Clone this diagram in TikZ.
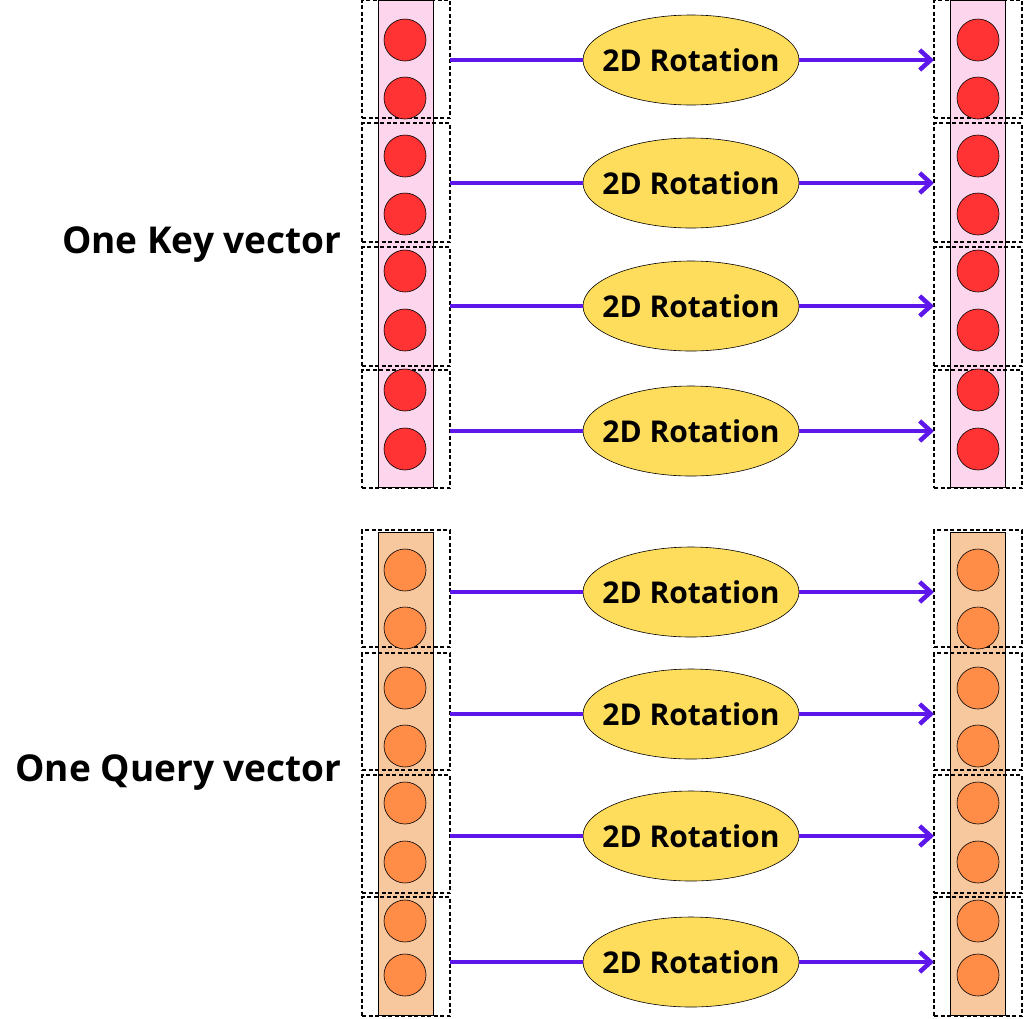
\documentclass[tikz,border=0pt]{standalone}
\usepackage{fontspec}
\setmainfont{Open Sans}
\usetikzlibrary{arrows.meta,shapes.geometric}
\definecolor{pinkbar}{HTML}{FDD5EC}
\definecolor{redc}{HTML}{FF3333}
\definecolor{orbar}{HTML}{F7C89E}
\definecolor{orc}{HTML}{FF8C47}
\definecolor{ell}{HTML}{FFDD5C}
\definecolor{arr}{HTML}{5E17EB}
\begin{document}
\begin{tikzpicture}[x=1pt,y=-1pt,
  dbox/.style={draw,line width=1.6pt,dash pattern=on 4pt off 2.5pt},
  circ/.style={circle,draw,line width=0.6pt,minimum size=42pt,inner sep=0pt},
  rot/.style={ellipse,draw,fill=ell,line width=0.6pt,minimum width=216pt,minimum height=90pt,inner sep=0pt},
  rtxt/.style={font=\bfseries\fontsize{30}{34}\selectfont,inner sep=0pt},
  ar/.style={draw=arr,line width=4.5pt,-{Straight Barb[length=11pt,width=20pt,line width=4.5pt]}},
  ln/.style={draw=arr,line width=4.5pt},
  lab/.style={anchor=east,font=\bfseries\fontsize{37}{42}\selectfont}]
\useasboundingbox (0,0) rectangle (1024,1018);
\foreach \bx in {378,950}{
  \fill[pinkbar] (\bx,0) rectangle ++(55,487);
  \draw[line width=0.5pt] (\bx,0) rectangle ++(55,487);
  \fill[orbar] (\bx,532) rectangle ++(55,483);
  \draw[line width=0.5pt] (\bx,532) rectangle ++(55,483);
}
\foreach \i/\ya/\yb/\ca/\cb/\ey in {1/0/118/40/98/60,2/123/242/156/214/183,3/247/366/271/330/306,4/370/488/390/449/431}{
  \node[dbox,minimum width=88pt,minimum height={\yb-\ya},inner sep=0pt] (kl\i) at (406,{(\ya+\yb)/2}) {};
  \node[dbox,minimum width=88pt,minimum height={\yb-\ya},inner sep=0pt] (kr\i) at (978,{(\ya+\yb)/2}) {};
  \node[circ,fill=redc] (kla\i) at (405,\ca) {};
  \node[circ,fill=redc] (klb\i) at (405,\cb) {};
  \node[circ,fill=redc] (kra\i) at (978,\ca) {};
  \node[circ,fill=redc] (krb\i) at (978,\cb) {};
  \node[rot] (ke\i) at (691,\ey) {};
  \node[rtxt] (kx\i) at (691,\ey) {2D Rotation};
  \coordinate (ks\i) at (450,\ey);
  \coordinate (kt\i) at (934,\ey);
  \draw[ln] (ks\i) -- (ke\i.west);
  \draw[ar] (ke\i.east) -- (kt\i);
}
\foreach \i/\ya/\yb/\ca/\cb/\ey in {1/530/647/570/628/592,2/653/770/688/746/714,3/775/893/803/862/836,4/897/1016/921/975/962}{
  \node[dbox,minimum width=88pt,minimum height={\yb-\ya},inner sep=0pt] (ql\i) at (406,{(\ya+\yb)/2}) {};
  \node[dbox,minimum width=88pt,minimum height={\yb-\ya},inner sep=0pt] (qr\i) at (978,{(\ya+\yb)/2}) {};
  \node[circ,fill=orc] (qla\i) at (405,\ca) {};
  \node[circ,fill=orc] (qlb\i) at (405,\cb) {};
  \node[circ,fill=orc] (qra\i) at (978,\ca) {};
  \node[circ,fill=orc] (qrb\i) at (978,\cb) {};
  \node[rot] (qe\i) at (691,\ey) {};
  \node[rtxt] (qx\i) at (691,\ey) {2D Rotation};
  \coordinate (qs\i) at (450,\ey);
  \coordinate (qt\i) at (934,\ey);
  \draw[ln] (qs\i) -- (qe\i.west);
  \draw[ar] (qe\i.east) -- (qt\i);
}
\node[lab] (kl) at (345,245) {One Key vector};
\node[lab] (ql) at (345,773) {One Query vector};
\end{tikzpicture}
\end{document}
